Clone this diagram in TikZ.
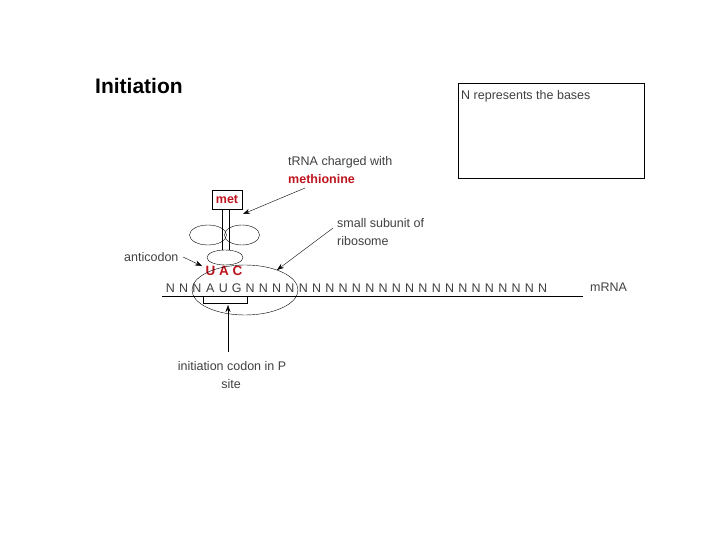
\documentclass[tikz,border=0pt]{standalone}
\usepackage{fontspec}
\setmainfont{Liberation Sans}
\usetikzlibrary{shapes.geometric,arrows.meta}
\begin{document}
\begin{tikzpicture}[x=1pt,y=-1pt,
  lbl/.style={inner sep=0pt,anchor=west,font=\fontsize{12.5}{15}\selectfont,text=black!75},
  red/.style={text={rgb,255:red,190;green,20;blue,30},font=\fontsize{12.5}{15}\selectfont\bfseries,inner sep=0pt},
  arr/.style={-{Stealth[length=7pt,width=5pt]},thin},
  ln/.style={thin}]
\useasboundingbox (0,0) rectangle (720,540);
\node[anchor=west,inner sep=0pt,font=\fontsize{21}{24}\selectfont\bfseries] (title) at (95,86) {Initiation};
\node[draw,ln,minimum width=186,minimum height=95,anchor=north west] (box) at (458,83) {};
\node[lbl] (boxtxt) at (461,96) {N represents the bases};
\node[lbl] (t1) at (288,162) {tRNA charged with};
\node[red,anchor=west] (t2) at (288,179) {methionine};
\node[draw,ln,minimum width=30,minimum height=19,inner sep=0pt,red] (met) at (227,199.5) {met};
\node[draw,ln,ellipse,minimum width=37,minimum height=20,inner sep=0pt] (e1) at (208,235) {};
\node[draw,ln,ellipse,minimum width=35,minimum height=20,inner sep=0pt] (e2) at (242,235) {};
\node[draw,ln,ellipse,minimum width=36,minimum height=15,inner sep=0pt] (e3) at (225,257.5) {};
\draw[ln] (222,209) -- (222,250) (229,209) -- (229,250);
\node[red,font=\fontsize{13.5}{15}\selectfont\bfseries] (uac) at (224,271) {U A C};
\node[draw,ln,ellipse,minimum width=106,minimum height=50,inner sep=0pt] (rib) at (245,290) {};
\draw[ln] (162,296) coordinate (m0) -- (583,296) coordinate (m1);
\foreach \l [count=\i] in {N,N,N,A,U,G,N,N,N,N,N,N,N,N,N,N,N,N,N,N,N,N,N,N,N,N,N,N,N}
  \node[font=\fontsize{12.5}{15}\selectfont,text=black!75,inner sep=0pt] (b\i) at ({157+\i*13.3},288) {\l};
\node[lbl] (mrna) at (590,287) {mRNA};
\draw[ln] (203,297) -- (203,303) -- (247,303) -- (247,297);
\node[lbl] (ac) at (124,257) {anticodon};
\node[lbl] (ss1) at (337,223) {small subunit of};
\node[lbl] (ss2) at (337,241) {ribosome};
\node[lbl,anchor=center] (ic1) at (232,366) {initiation codon in P};
\node[lbl,anchor=center] (ic2) at (231,384) {site};
\coordinate (a1) at (305,188); \coordinate (a1e) at (243,214);
\draw[arr] (a1) -- (a1e);
\coordinate (a2) at (183,257); \coordinate (a2e) at (202,266);
\draw[arr] (a2) -- (a2e);
\coordinate (a3) at (333,228); \coordinate (a3e) at (277,270);
\draw[arr] (a3) -- (a3e);
\coordinate (a4) at (228,352); \coordinate (a4e) at (228,305);
\draw[arr] (a4) -- (a4e);
\end{tikzpicture}
\end{document}
